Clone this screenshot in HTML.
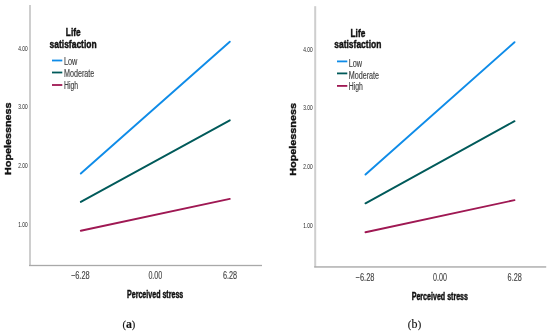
<!DOCTYPE html>
<html lang="en">
<head>
<meta charset="utf-8">
<title>Hopelessness by perceived stress and life satisfaction</title>
<style>
html,body{margin:0;padding:0;background:#fff;}
body{width:550px;height:334px;overflow:hidden;}
svg{display:block;font-family:"Liberation Sans",Arial,sans-serif;}
.cap{font-family:"Liberation Serif","Times New Roman",serif;fill:#111;}
</style>
</head>
<body>
<svg width="550" height="334" viewBox="0 0 550 334">
<rect width="550" height="334" fill="#ffffff"/>
<g id="chart-a">
<rect x="29" y="5" width="2" height="260.5" fill="#cecece"/>
<rect x="29" y="264.85" width="233" height="1.3" fill="#a9a9a9"/>
<line x1="80.8" y1="173.5" x2="229.8" y2="41.7" stroke="#0f8ce8" stroke-width="1.9" stroke-linecap="round"/>
<line x1="80.8" y1="201.9" x2="229.8" y2="120.3" stroke="#005a5a" stroke-width="1.9" stroke-linecap="round"/>
<line x1="80.8" y1="230.8" x2="229.8" y2="198.9" stroke="#9f1853" stroke-width="1.9" stroke-linecap="round"/>
<g transform="translate(0,0)">
<g transform="translate(0,0)">
<text x="73.2" y="36.45" text-anchor="middle" font-weight="bold" stroke="#111" stroke-width="0.45" fill="#111" font-size="11.5" textLength="14.7" lengthAdjust="spacingAndGlyphs">Life</text>
<text x="73.1" y="48.2" text-anchor="middle" font-weight="bold" stroke="#111" stroke-width="0.45" fill="#111" font-size="11.5" textLength="47.1" lengthAdjust="spacingAndGlyphs">satisfaction</text>
</g>
<g transform="translate(0,0)">
<rect x="52" y="59.6" width="10.3" height="1.8" fill="#0f8ce8"/>
<rect x="52" y="71.6" width="10.3" height="1.8" fill="#005a5a"/>
<rect x="52" y="84.1" width="10.3" height="1.8" fill="#9f1853"/>
</g>
<g transform="translate(0,0)">
<text x="64.0" y="65.4" font-size="10.0" textLength="13.4" lengthAdjust="spacingAndGlyphs" fill="#444" stroke="#444" stroke-width="0.18">Low</text>
<text x="64.0" y="77.4" font-size="10.0" textLength="30.3" lengthAdjust="spacingAndGlyphs" fill="#444" stroke="#444" stroke-width="0.18">Moderate</text>
<text x="64.0" y="89.2" font-size="10.0" textLength="14.1" lengthAdjust="spacingAndGlyphs" fill="#444" stroke="#444" stroke-width="0.18">High</text>
</g>
<g transform="translate(0,0)">
<text x="18.3" y="51.1" font-size="7.3" textLength="9.4" lengthAdjust="spacingAndGlyphs" fill="#1a1a1a">4.00</text>
<text x="18.3" y="109.4" font-size="7.3" textLength="9.4" lengthAdjust="spacingAndGlyphs" fill="#1a1a1a">3.00</text>
<text x="18.3" y="168.4" font-size="7.3" textLength="9.4" lengthAdjust="spacingAndGlyphs" fill="#1a1a1a">2.00</text>
<text x="18.3" y="226.7" font-size="7.3" textLength="9.4" lengthAdjust="spacingAndGlyphs" fill="#1a1a1a">1.00</text>
</g>
<g transform="translate(0,0)">
<text transform="translate(10.9,175) rotate(-90) scale(1,0.86)" font-weight="bold" stroke="#111" stroke-width="0.45" fill="#111" font-size="10.9" textLength="72.6" lengthAdjust="spacingAndGlyphs">Hopelessness</text>
</g>
<g transform="translate(0,0)">
<text x="70.9" y="278.8" font-size="11.1" textLength="18.8" lengthAdjust="spacingAndGlyphs" fill="#444" stroke="#444" stroke-width="0.15">−6.28</text>
<text x="148.4" y="278.8" font-size="11.1" textLength="13.9" lengthAdjust="spacingAndGlyphs" fill="#444" stroke="#444" stroke-width="0.15">0.00</text>
<text x="222.9" y="278.8" font-size="11.1" textLength="14.2" lengthAdjust="spacingAndGlyphs" fill="#444" stroke="#444" stroke-width="0.15">6.28</text>
</g>
<g transform="translate(0,0)">
<text x="127" y="298.4" font-weight="bold" stroke="#111" stroke-width="0.45" fill="#111" font-size="10.1" textLength="56.3" lengthAdjust="spacingAndGlyphs">Perceived stress</text>
</g>
</g>
</g>
<g id="chart-b">
<rect x="314.2" y="6.2" width="2" height="261" fill="#cecece"/>
<rect x="314.2" y="266.25" width="232" height="1.4" fill="#a9a9a9"/>
<line x1="365.5" y1="174.55" x2="514.5" y2="42.2" stroke="#0f8ce8" stroke-width="1.9" stroke-linecap="round"/>
<line x1="365.5" y1="203.3" x2="514.5" y2="121.2" stroke="#005a5a" stroke-width="1.9" stroke-linecap="round"/>
<line x1="365.5" y1="232.2" x2="514.5" y2="200.15" stroke="#9f1853" stroke-width="1.9" stroke-linecap="round"/>
<g transform="translate(284.7,1.4)">
<g transform="translate(0,-1.2)">
<text x="73.2" y="36.45" text-anchor="middle" font-weight="bold" stroke="#111" stroke-width="0.45" fill="#111" font-size="11.5" textLength="14.7" lengthAdjust="spacingAndGlyphs">Life</text>
<text x="73.1" y="48.2" text-anchor="middle" font-weight="bold" stroke="#111" stroke-width="0.45" fill="#111" font-size="11.5" textLength="47.1" lengthAdjust="spacingAndGlyphs">satisfaction</text>
</g>
<g transform="translate(0.3,-0.5)">
<rect x="52" y="59.6" width="10.3" height="1.8" fill="#0f8ce8"/>
<rect x="52" y="71.6" width="10.3" height="1.8" fill="#005a5a"/>
<rect x="52" y="84.1" width="10.3" height="1.8" fill="#9f1853"/>
</g>
<g transform="translate(0,-0.2)">
<text x="64.0" y="65.4" font-size="10.0" textLength="13.4" lengthAdjust="spacingAndGlyphs" fill="#444" stroke="#444" stroke-width="0.18">Low</text>
<text x="64.0" y="77.4" font-size="10.0" textLength="30.3" lengthAdjust="spacingAndGlyphs" fill="#444" stroke="#444" stroke-width="0.18">Moderate</text>
<text x="64.0" y="89.2" font-size="10.0" textLength="14.1" lengthAdjust="spacingAndGlyphs" fill="#444" stroke="#444" stroke-width="0.18">High</text>
</g>
<g transform="translate(0.3,-0.4)">
<text x="18.3" y="51.1" font-size="7.3" textLength="9.4" lengthAdjust="spacingAndGlyphs" fill="#1a1a1a">4.00</text>
<text x="18.3" y="109.4" font-size="7.3" textLength="9.4" lengthAdjust="spacingAndGlyphs" fill="#1a1a1a">3.00</text>
<text x="18.3" y="168.4" font-size="7.3" textLength="9.4" lengthAdjust="spacingAndGlyphs" fill="#1a1a1a">2.00</text>
<text x="18.3" y="226.7" font-size="7.3" textLength="9.4" lengthAdjust="spacingAndGlyphs" fill="#1a1a1a">1.00</text>
</g>
<g transform="translate(0.25,-0.7)">
<text transform="translate(10.9,175) rotate(-90) scale(1,0.86)" font-weight="bold" stroke="#111" stroke-width="0.45" fill="#111" font-size="10.9" textLength="72.6" lengthAdjust="spacingAndGlyphs">Hopelessness</text>
</g>
<g transform="translate(0,0.5)">
<text x="70.9" y="278.8" font-size="11.1" textLength="18.8" lengthAdjust="spacingAndGlyphs" fill="#444" stroke="#444" stroke-width="0.15">−6.28</text>
<text x="148.4" y="278.8" font-size="11.1" textLength="13.9" lengthAdjust="spacingAndGlyphs" fill="#444" stroke="#444" stroke-width="0.15">0.00</text>
<text x="222.9" y="278.8" font-size="11.1" textLength="14.2" lengthAdjust="spacingAndGlyphs" fill="#444" stroke="#444" stroke-width="0.15">6.28</text>
</g>
<g transform="translate(0,0)">
<text x="127" y="298.4" font-weight="bold" stroke="#111" stroke-width="0.45" fill="#111" font-size="10.1" textLength="56.3" lengthAdjust="spacingAndGlyphs">Perceived stress</text>
</g>
</g>
</g>
<text class="cap" x="128.9" y="327.7" text-anchor="middle" font-size="10.5" stroke="#111" stroke-width="0.15">(<tspan font-weight="bold" font-size="11.8">a</tspan>)</text>
<text class="cap" x="414.6" y="327.6" text-anchor="middle" font-size="10.5" stroke="#111" stroke-width="0.15" letter-spacing="0.3">(<tspan font-size="12">b</tspan>)</text>
</svg>
</body>
</html>
